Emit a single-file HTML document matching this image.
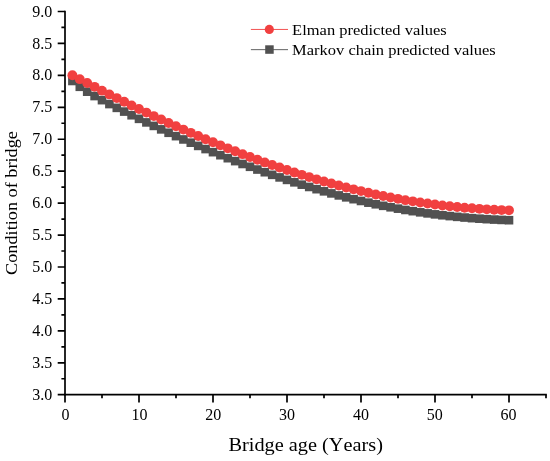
<!DOCTYPE html>
<html><head><meta charset="utf-8"><title>Bridge condition chart</title>
<style>html,body{margin:0;padding:0;background:#fff}</style></head>
<body>
<svg width="550" height="461" viewBox="0 0 550 461" style="display:block">
<rect width="550" height="461" fill="#fff"/>
<polyline points="72.40,80.98 79.80,86.79 87.20,91.68 94.60,96.06 102.00,100.14 109.40,104.06 116.80,107.86 124.20,111.58 131.60,115.24 139.00,118.85 146.40,122.40 153.80,125.91 161.20,129.37 168.60,132.78 176.00,136.14 183.40,139.45 190.80,142.70 198.20,145.91 205.60,149.06 213.00,152.16 220.40,155.20 227.80,158.19 235.20,161.11 242.60,163.98 250.00,166.79 257.40,169.54 264.80,172.22 272.20,174.84 279.60,177.40 287.00,179.89 294.40,182.32 301.80,184.67 309.20,186.96 316.60,189.18 324.00,191.33 331.40,193.40 338.80,195.40 346.20,197.33 353.60,199.18 361.00,200.96 368.40,202.66 375.80,204.28 383.20,205.82 390.60,207.28 398.00,208.66 405.40,209.96 412.80,211.18 420.20,212.32 427.60,213.38 435.00,214.36 442.40,215.27 449.80,216.10 457.20,216.85 464.60,217.54 472.00,218.15 479.40,218.69 486.80,219.17 494.20,219.58 501.60,219.92 509.00,220.20" fill="none" stroke="#515151" stroke-width="1"/>
<g fill="#515151">
<rect x="68.10" y="76.68" width="8.6" height="8.6"/>
<rect x="75.50" y="82.49" width="8.6" height="8.6"/>
<rect x="82.90" y="87.38" width="8.6" height="8.6"/>
<rect x="90.30" y="91.76" width="8.6" height="8.6"/>
<rect x="97.70" y="95.84" width="8.6" height="8.6"/>
<rect x="105.10" y="99.76" width="8.6" height="8.6"/>
<rect x="112.50" y="103.56" width="8.6" height="8.6"/>
<rect x="119.90" y="107.28" width="8.6" height="8.6"/>
<rect x="127.30" y="110.94" width="8.6" height="8.6"/>
<rect x="134.70" y="114.55" width="8.6" height="8.6"/>
<rect x="142.10" y="118.10" width="8.6" height="8.6"/>
<rect x="149.50" y="121.61" width="8.6" height="8.6"/>
<rect x="156.90" y="125.07" width="8.6" height="8.6"/>
<rect x="164.30" y="128.48" width="8.6" height="8.6"/>
<rect x="171.70" y="131.84" width="8.6" height="8.6"/>
<rect x="179.10" y="135.15" width="8.6" height="8.6"/>
<rect x="186.50" y="138.40" width="8.6" height="8.6"/>
<rect x="193.90" y="141.61" width="8.6" height="8.6"/>
<rect x="201.30" y="144.76" width="8.6" height="8.6"/>
<rect x="208.70" y="147.86" width="8.6" height="8.6"/>
<rect x="216.10" y="150.90" width="8.6" height="8.6"/>
<rect x="223.50" y="153.89" width="8.6" height="8.6"/>
<rect x="230.90" y="156.81" width="8.6" height="8.6"/>
<rect x="238.30" y="159.68" width="8.6" height="8.6"/>
<rect x="245.70" y="162.49" width="8.6" height="8.6"/>
<rect x="253.10" y="165.24" width="8.6" height="8.6"/>
<rect x="260.50" y="167.92" width="8.6" height="8.6"/>
<rect x="267.90" y="170.54" width="8.6" height="8.6"/>
<rect x="275.30" y="173.10" width="8.6" height="8.6"/>
<rect x="282.70" y="175.59" width="8.6" height="8.6"/>
<rect x="290.10" y="178.02" width="8.6" height="8.6"/>
<rect x="297.50" y="180.37" width="8.6" height="8.6"/>
<rect x="304.90" y="182.66" width="8.6" height="8.6"/>
<rect x="312.30" y="184.88" width="8.6" height="8.6"/>
<rect x="319.70" y="187.03" width="8.6" height="8.6"/>
<rect x="327.10" y="189.10" width="8.6" height="8.6"/>
<rect x="334.50" y="191.10" width="8.6" height="8.6"/>
<rect x="341.90" y="193.03" width="8.6" height="8.6"/>
<rect x="349.30" y="194.88" width="8.6" height="8.6"/>
<rect x="356.70" y="196.66" width="8.6" height="8.6"/>
<rect x="364.10" y="198.36" width="8.6" height="8.6"/>
<rect x="371.50" y="199.98" width="8.6" height="8.6"/>
<rect x="378.90" y="201.52" width="8.6" height="8.6"/>
<rect x="386.30" y="202.98" width="8.6" height="8.6"/>
<rect x="393.70" y="204.36" width="8.6" height="8.6"/>
<rect x="401.10" y="205.66" width="8.6" height="8.6"/>
<rect x="408.50" y="206.88" width="8.6" height="8.6"/>
<rect x="415.90" y="208.02" width="8.6" height="8.6"/>
<rect x="423.30" y="209.08" width="8.6" height="8.6"/>
<rect x="430.70" y="210.06" width="8.6" height="8.6"/>
<rect x="438.10" y="210.97" width="8.6" height="8.6"/>
<rect x="445.50" y="211.80" width="8.6" height="8.6"/>
<rect x="452.90" y="212.55" width="8.6" height="8.6"/>
<rect x="460.30" y="213.24" width="8.6" height="8.6"/>
<rect x="467.70" y="213.85" width="8.6" height="8.6"/>
<rect x="475.10" y="214.39" width="8.6" height="8.6"/>
<rect x="482.50" y="214.87" width="8.6" height="8.6"/>
<rect x="489.90" y="215.28" width="8.6" height="8.6"/>
<rect x="497.30" y="215.62" width="8.6" height="8.6"/>
<rect x="504.70" y="215.90" width="8.6" height="8.6"/>
</g>
<polyline points="72.40,75.23 79.80,79.14 87.20,83.01 94.60,86.85 102.00,90.64 109.40,94.40 116.80,98.12 124.20,101.80 131.60,105.43 139.00,109.03 146.40,112.58 153.80,116.08 161.20,119.53 168.60,122.94 176.00,126.30 183.40,129.61 190.80,132.87 198.20,136.07 205.60,139.23 213.00,142.32 220.40,145.36 227.80,148.35 235.20,151.28 242.60,154.14 250.00,156.95 257.40,159.70 264.80,162.38 272.20,165.01 279.60,167.56 287.00,170.05 294.40,172.48 301.80,174.84 309.20,177.12 316.60,179.34 324.00,181.49 331.40,183.57 338.80,185.57 346.20,187.49 353.60,189.35 361.00,191.12 368.40,192.82 375.80,194.44 383.20,195.98 390.60,197.44 398.00,198.83 405.40,200.13 412.80,201.35 420.20,202.49 427.60,203.55 435.00,204.53 442.40,205.43 449.80,206.26 457.20,207.02 464.60,207.70 472.00,208.31 479.40,208.86 486.80,209.33 494.20,209.74 501.60,210.08 509.00,210.37" fill="none" stroke="#f14040" stroke-width="1"/>
<g fill="#f14040">
<circle cx="72.40" cy="75.23" r="4.95"/>
<circle cx="79.80" cy="79.14" r="4.95"/>
<circle cx="87.20" cy="83.01" r="4.95"/>
<circle cx="94.60" cy="86.85" r="4.95"/>
<circle cx="102.00" cy="90.64" r="4.95"/>
<circle cx="109.40" cy="94.40" r="4.95"/>
<circle cx="116.80" cy="98.12" r="4.95"/>
<circle cx="124.20" cy="101.80" r="4.95"/>
<circle cx="131.60" cy="105.43" r="4.95"/>
<circle cx="139.00" cy="109.03" r="4.95"/>
<circle cx="146.40" cy="112.58" r="4.95"/>
<circle cx="153.80" cy="116.08" r="4.95"/>
<circle cx="161.20" cy="119.53" r="4.95"/>
<circle cx="168.60" cy="122.94" r="4.95"/>
<circle cx="176.00" cy="126.30" r="4.95"/>
<circle cx="183.40" cy="129.61" r="4.95"/>
<circle cx="190.80" cy="132.87" r="4.95"/>
<circle cx="198.20" cy="136.07" r="4.95"/>
<circle cx="205.60" cy="139.23" r="4.95"/>
<circle cx="213.00" cy="142.32" r="4.95"/>
<circle cx="220.40" cy="145.36" r="4.95"/>
<circle cx="227.80" cy="148.35" r="4.95"/>
<circle cx="235.20" cy="151.28" r="4.95"/>
<circle cx="242.60" cy="154.14" r="4.95"/>
<circle cx="250.00" cy="156.95" r="4.95"/>
<circle cx="257.40" cy="159.70" r="4.95"/>
<circle cx="264.80" cy="162.38" r="4.95"/>
<circle cx="272.20" cy="165.01" r="4.95"/>
<circle cx="279.60" cy="167.56" r="4.95"/>
<circle cx="287.00" cy="170.05" r="4.95"/>
<circle cx="294.40" cy="172.48" r="4.95"/>
<circle cx="301.80" cy="174.84" r="4.95"/>
<circle cx="309.20" cy="177.12" r="4.95"/>
<circle cx="316.60" cy="179.34" r="4.95"/>
<circle cx="324.00" cy="181.49" r="4.95"/>
<circle cx="331.40" cy="183.57" r="4.95"/>
<circle cx="338.80" cy="185.57" r="4.95"/>
<circle cx="346.20" cy="187.49" r="4.95"/>
<circle cx="353.60" cy="189.35" r="4.95"/>
<circle cx="361.00" cy="191.12" r="4.95"/>
<circle cx="368.40" cy="192.82" r="4.95"/>
<circle cx="375.80" cy="194.44" r="4.95"/>
<circle cx="383.20" cy="195.98" r="4.95"/>
<circle cx="390.60" cy="197.44" r="4.95"/>
<circle cx="398.00" cy="198.83" r="4.95"/>
<circle cx="405.40" cy="200.13" r="4.95"/>
<circle cx="412.80" cy="201.35" r="4.95"/>
<circle cx="420.20" cy="202.49" r="4.95"/>
<circle cx="427.60" cy="203.55" r="4.95"/>
<circle cx="435.00" cy="204.53" r="4.95"/>
<circle cx="442.40" cy="205.43" r="4.95"/>
<circle cx="449.80" cy="206.26" r="4.95"/>
<circle cx="457.20" cy="207.02" r="4.95"/>
<circle cx="464.60" cy="207.70" r="4.95"/>
<circle cx="472.00" cy="208.31" r="4.95"/>
<circle cx="479.40" cy="208.86" r="4.95"/>
<circle cx="486.80" cy="209.33" r="4.95"/>
<circle cx="494.20" cy="209.74" r="4.95"/>
<circle cx="501.60" cy="210.08" r="4.95"/>
<circle cx="509.00" cy="210.37" r="4.95"/>
</g>
<g stroke="#000" stroke-width="1.7" fill="none" stroke-linecap="butt">
<path d="M65.0 10.65V395.57"/>
<path d="M64.15 394.72H546.85"/>
<path d="M65.0 394.72h-7.3M65.0 378.75h-3.6M65.0 362.78h-7.3M65.0 346.82h-3.6M65.0 330.85h-7.3M65.0 314.88h-3.6M65.0 298.91h-7.3M65.0 282.95h-3.6M65.0 266.98h-7.3M65.0 251.01h-3.6M65.0 235.04h-7.3M65.0 219.08h-3.6M65.0 203.11h-7.3M65.0 187.14h-3.6M65.0 171.17h-7.3M65.0 155.21h-3.6M65.0 139.24h-7.3M65.0 123.27h-3.6M65.0 107.30h-7.3M65.0 91.34h-3.6M65.0 75.37h-7.3M65.0 59.40h-3.6M65.0 43.44h-7.3M65.0 27.47h-3.6M65.0 11.50h-7.3M65.00 394.72v7.8M102.00 394.72v3.5M139.00 394.72v7.8M176.00 394.72v3.5M213.00 394.72v7.8M250.00 394.72v3.5M287.00 394.72v7.8M324.00 394.72v3.5M361.00 394.72v7.8M398.00 394.72v3.5M435.00 394.72v7.8M472.00 394.72v3.5M509.00 394.72v7.8M546.00 394.72v3.5"/>
</g>
<g font-family="'Liberation Serif', 'Times New Roman', serif" font-size="16" fill="#000">
<text x="52.25" y="399.82" text-anchor="end">3.0</text>
<text x="52.25" y="367.88" text-anchor="end">3.5</text>
<text x="52.25" y="335.95" text-anchor="end">4.0</text>
<text x="52.25" y="304.01" text-anchor="end">4.5</text>
<text x="52.25" y="272.08" text-anchor="end">5.0</text>
<text x="52.25" y="240.14" text-anchor="end">5.5</text>
<text x="52.25" y="208.21" text-anchor="end">6.0</text>
<text x="52.25" y="176.27" text-anchor="end">6.5</text>
<text x="52.25" y="144.34" text-anchor="end">7.0</text>
<text x="52.25" y="112.40" text-anchor="end">7.5</text>
<text x="52.25" y="80.47" text-anchor="end">8.0</text>
<text x="52.25" y="48.54" text-anchor="end">8.5</text>
<text x="52.25" y="16.60" text-anchor="end">9.0</text>
<text x="65.50" y="420" text-anchor="middle">0</text>
<text x="139.50" y="420" text-anchor="middle">10</text>
<text x="213.30" y="420" text-anchor="middle">20</text>
<text x="287.10" y="420" text-anchor="middle">30</text>
<text x="360.90" y="420" text-anchor="middle">40</text>
<text x="434.70" y="420" text-anchor="middle">50</text>
<text x="508.50" y="420" text-anchor="middle">60</text>
</g>
<g font-family="'Liberation Serif', 'Times New Roman', serif" fill="#000" style="font-kerning:none">
<text transform="translate(305.7 450.7) scale(1.063 1)" font-size="19.1" text-anchor="middle">Bridge age (Years)</text>
<text transform="translate(17.4 203.0) rotate(-90) scale(1.079 1)" font-size="16.9" text-anchor="middle">Condition of bridge</text>
<text transform="translate(292.1 34.7) scale(1.10 1)" font-size="15">Elman predicted values</text>
<text transform="translate(292.1 54.5) scale(1.10 1)" font-size="15">Markov chain predicted values</text>
</g>
<path d="M250.9 29.45H288" stroke="#f14040" stroke-width="0.9"/><circle cx="269.3" cy="29.45" r="4.6" fill="#f14040"/>
<path d="M250.9 49.65H288" stroke="#515151" stroke-width="0.9"/><rect x="265.2" y="45.3" width="8.5" height="8.5" fill="#515151"/>
</svg>
</body></html>
